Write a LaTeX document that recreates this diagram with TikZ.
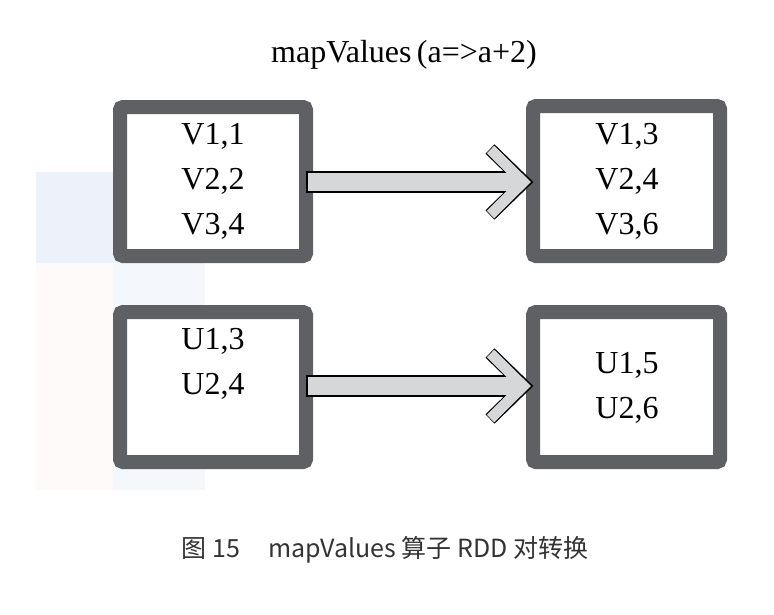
\documentclass[tikz,border=0pt]{standalone}
\usepackage{fontspec}
\setmainfont{Liberation Serif}
\newfontfamily\cjk{Noto Sans CJK SC}
\begin{document}
\begin{tikzpicture}[x=1pt,y=-1pt,
  box/.style={draw=boxgray,line width=14pt,rounded corners=3pt},
  txt/.style={font=\fontsize{32}{45}\selectfont,align=center,text=black,inner sep=0pt},
  shaft/.style={fill=arrgray,draw=black,line width=1.2pt}]
\definecolor{boxgray}{HTML}{5F6064}
\definecolor{arrgray}{HTML}{D6D7D9}
\definecolor{bandblue}{HTML}{EDF1F9}
\useasboundingbox (0,0) rectangle (774,614);
\fill[bandblue] (36,172) rectangle (118,263);
\fill[bandblue!60] (113,263) rectangle (205,490);
\fill[red!2] (36,263) rectangle (113,490);
% boxes
\draw[box,fill=white] (120,107) rectangle (306,256);
\draw[box,fill=white] (533,106) rectangle (720,256);
\draw[box,fill=white] (120,312) rectangle (306,462);
\draw[box,fill=white] (533,312) rectangle (720,462);
% texts
\node[txt] (t) at (404,55) {mapValues\,(a=>a+2)};
\node[txt] (a) at (213,181) {V1,1\\V2,2\\V3,4};
\node[txt] (b) at (627,181) {V1,3\\V2,4\\V3,6};
\node[txt] (c) at (213,364) {U1,3\\U2,4};
\node[txt] (d) at (627,388) {U1,5\\U2,6};
\node[font=\cjk\fontsize{25}{30}\selectfont,text=black!80] (cap) at (385,550) {图 15\hspace{0.9em} mapValues 算子 RDD 对转换};
% arrows
\foreach \yy in {182,386}{
  \draw[line width=13pt,black,miter limit=10] (490,\yy-33) -- (524,\yy) -- (490,\yy+33);
  \draw[shaft] (307,\yy-10) rectangle (520,\yy+10);
  \draw[line width=10.6pt,arrgray,miter limit=10] (490.5,\yy-32.5) -- (523.3,\yy) -- (490.5,\yy+32.5);
  \fill[arrgray] (307.6,\yy-9.4) rectangle (521,\yy+9.4);
}
\end{tikzpicture}
\end{document}
